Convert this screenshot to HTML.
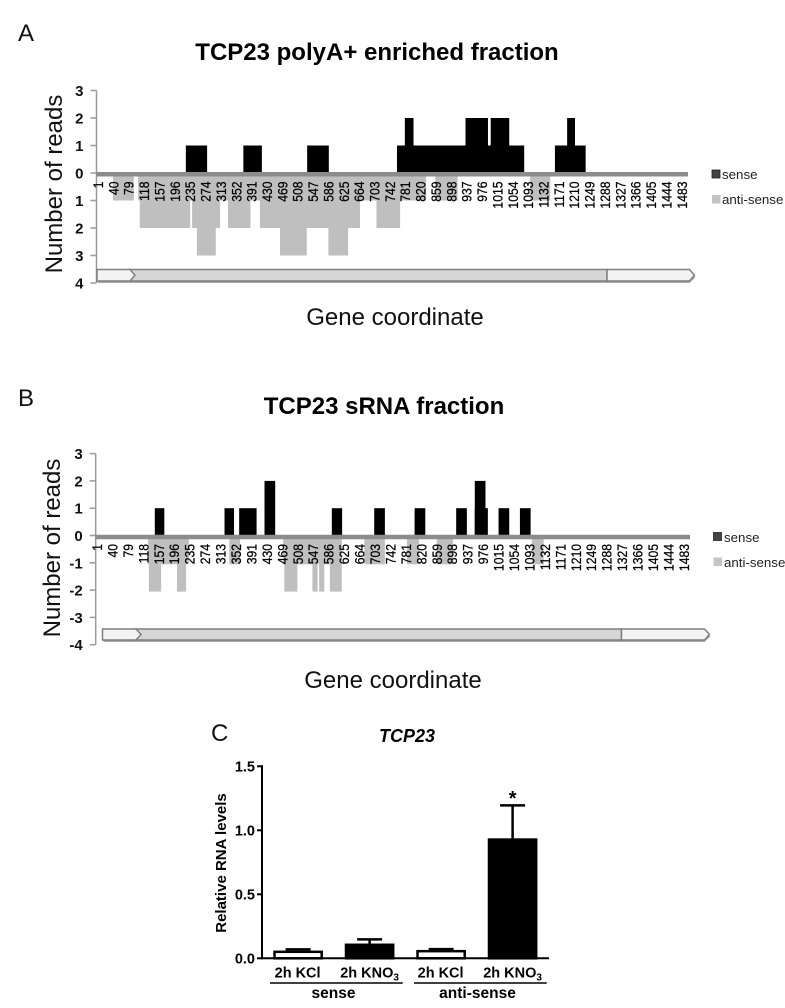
<!DOCTYPE html>
<html lang="en">
<head>
<meta charset="utf-8">
<title>TCP23 read coverage and RNA levels</title>
<style>
html,body{margin:0;padding:0;background:#fff;}
body{width:785px;height:1008px;overflow:hidden;}
svg{display:block;font-family:"Liberation Sans",sans-serif;filter:blur(0.35px);}
</style>
</head>
<body>
<svg id="figure" xmlns="http://www.w3.org/2000/svg" width="785" height="1008" viewBox="0 0 785 1008">
  <rect width="785" height="1008" fill="#ffffff"/>
  <g id="layer-a"></g>
  <g id="layer-b"></g>
  <g id="layer-c"></g>

  <text x="18" y="41" font-size="24" fill="#111">A</text>
  <text x="377" y="60" font-size="24" font-weight="700" text-anchor="middle" fill="#000">TCP23 polyA+ enriched fraction</text>
  <text transform="translate(62,184) rotate(-90)" font-size="24" text-anchor="middle" fill="#111">Number of reads</text>
  <text x="395" y="325" font-size="24" text-anchor="middle" fill="#111">Gene coordinate</text>
  <rect x="712" y="170" width="8" height="8" fill="#444" stroke="#222" stroke-width="0.8"/>
  <text x="722" y="179" font-size="13.3" fill="#222">sense</text>
  <rect x="712" y="195" width="8.5" height="8.5" fill="#c4c4c4"/>
  <text x="722" y="204" font-size="13.3" fill="#222">anti-sense</text>

  <text x="18" y="406" font-size="24" fill="#111">B</text>
  <text x="384" y="414" font-size="24" font-weight="700" text-anchor="middle" fill="#000">TCP23 sRNA fraction</text>
  <text transform="translate(60,548) rotate(-90)" font-size="24" text-anchor="middle" fill="#111">Number of reads</text>
  <text x="393" y="688" font-size="24" text-anchor="middle" fill="#111">Gene coordinate</text>
  <rect x="713.5" y="532.5" width="8" height="8" fill="#444" stroke="#222" stroke-width="0.8"/>
  <text x="724" y="542" font-size="13.3" fill="#222">sense</text>
  <rect x="713.5" y="557.5" width="8.5" height="8.5" fill="#c4c4c4"/>
  <text x="724" y="567" font-size="13.3" fill="#222">anti-sense</text>

  <text x="211" y="741" font-size="24" fill="#111">C</text>
  <text x="407" y="742" font-size="18" font-weight="700" font-style="italic" text-anchor="middle" fill="#000">TCP23</text>
  <text transform="translate(226,863) rotate(-90)" font-size="15" font-weight="700" text-anchor="middle" fill="#000">Relative RNA levels</text>
</svg>

<script>
// Shared gene-coordinate tick labels
const geneTicks = [1,40,79,118,157,196,235,274,313,352,391,430,469,508,547,586,625,664,703,742,781,820,859,898,937,976,1015,1054,1093,1132,1171,1210,1249,1288,1327,1366,1405,1444,1483];

// Panel A values
const aYTicks = [3,2,1,0,-1,-2,-3,-4];
const aYLabels = ['3','2','1','0','1','2','3','4'];
const aSenseStart = [224,370,532,760,780,934,998,1161,1192];
const aSenseEnd   = [278,417,587,1083,802,991,1045,1239,1212];
const aSenseReads = [1,1,1,1,2,2,2,1,2];
const aAntiStart = [39,103,857,1098,107,240,331,412,708,252,463,586];
const aAntiEnd   = [92,834,914,1149,235,311,388,666,768,300,531,636];
const aAntiReads = [1,1,1,1,2,2,2,2,2,3,3,3];

// Panel B values
const bYTicks = [3,2,1,0,-1,-2,-3,-4];
const bYLabels = ['3','2','1','0','-1','-2','-3','-4'];
const bSenseStart = [147,323,360,424,594,701,803,908,955,955,1015,1069];
const bSenseEnd   = [171,347,404,451,620,728,830,935,988,982,1042,1096];
const bSenseReads = [1,1,1,2,1,1,1,1,1,2,1,1];
const bAntiStart = [130,335,471,676,784,859,1099,132,203,474,545,562,589];
const bAntiEnd   = [233,362,619,728,814,900,1129,163,226,507,558,575,619];
const bAntiReads = [1,1,1,1,1,1,1,2,2,2,2,2,2];

// Panel C values
const cCategories = ['2h KCl','2h KNO','2h KCl','2h KNO'];
const cMeans = [0.06,0.115,0.065,0.937];
const cErrorTops = [0.07,0.148,0.072,1.195];
const cYTicks = [0,0.5,1,1.5];
const cYLabels = ['0.0','0.5','1.0','1.5'];
const cGroups = ['sense','anti-sense'];

const NS = 'http://www.w3.org/2000/svg';

function svgEl(parent, tag, attrs, text) {
  const el = document.createElementNS(NS, tag);
  for (const k in attrs) el.setAttribute(k, attrs[k]);
  if (text !== undefined) el.textContent = text;
  parent.appendChild(el);
  return el;
}

function drawCoverage(layer, prefix, cfg) {
  const xScale = c => cfg.x0 + (c - 1) * cfg.xPerBase;
  const yScale = v => cfg.y0 - v * cfg.yStep;

  for (let i = 0; i < cfg.antiReads.length; i++) {
    const x1 = xScale(cfg.antiStart[i]);
    const x2 = xScale(cfg.antiEnd[i]);
    const y2 = yScale(-cfg.antiReads[i]) + cfg.antiShift;
    const r = svgEl(layer, 'rect', {x: x1, y: cfg.y0, width: x2 - x1, height: y2 - cfg.y0, fill: '#bfbfbf'});
    
    
  }
  for (let i = 0; i < cfg.senseReads.length; i++) {
    const x1 = xScale(cfg.senseStart[i]);
    const x2 = xScale(cfg.senseEnd[i]);
    const y1 = yScale(cfg.senseReads[i]);
    const r = svgEl(layer, 'rect', {x: x1, y: y1, width: x2 - x1, height: cfg.y0 - y1 + 1, fill: '#000'});
    
    
  }

  const yAxis = svgEl(layer, 'line', {x1: cfg.axisX, x2: cfg.axisX, y1: yScale(cfg.yTicks[0]), y2: yScale(cfg.yTicks[cfg.yTicks.length - 1]), stroke: '#9a9a9a', 'stroke-width': 1.5});
  
  

  cfg.yTicks.forEach((t, i) => {
    const tick = svgEl(layer, 'line', {x1: cfg.axisX - 6, x2: cfg.axisX, y1: yScale(t), y2: yScale(t), stroke: '#9a9a9a', 'stroke-width': 1.5});
    
    
    const lab = svgEl(layer, 'text', {x: cfg.axisX - 13, y: yScale(t) + 5.5, 'font-size': 15, 'font-weight': 700, 'text-anchor': 'end', fill: '#111'}, cfg.yLabels[i]);
    
    
  });

  const base = svgEl(layer, 'line', {x1: cfg.axisX - 0.5, x2: cfg.baseEnd, y1: cfg.baseY, y2: cfg.baseY, stroke: '#8c8c8c', 'stroke-width': 4.5});
  
  

  geneTicks.forEach(g => {
    const x = xScale(g) + 5;
    const lab = svgEl(layer, 'text', {transform: 'translate(' + x + ',' + cfg.labelTop + ') rotate(-90) scale(0.87,1)', 'font-size': 14, 'text-anchor': 'end', fill: '#000', stroke: '#000', 'stroke-width': 0.25}, String(g));
    
    
  });

  // Gene model track
  const t = cfg.track;
  const mid = (t.y1 + t.y2) / 2;
  const shadow = svgEl(layer, 'path', {d: 'M' + (t.x1 + 1) + ' ' + (t.y1 + 2) + 'H' + (t.x4 - 5) + 'L' + (t.x4 + 1) + ' ' + (mid + 2) + 'L' + (t.x4 - 5) + ' ' + (t.y2 + 2) + 'H' + (t.x1 + 1) + 'Z', fill: '#a8a8a8'});
  
  
  const cds = svgEl(layer, 'rect', {x: t.x2 - 6, y: t.y1, width: t.x3 - t.x2 + 6, height: t.y2 - t.y1, fill: '#d6d6d6', stroke: '#7f7f7f', 'stroke-width': 1.5});
  
  
  const utr5 = svgEl(layer, 'path', {d: 'M' + t.x1 + ' ' + t.y1 + 'H' + (t.x2 - 5) + 'L' + t.x2 + ' ' + mid + 'L' + (t.x2 - 5) + ' ' + t.y2 + 'H' + t.x1 + 'Z', fill: '#f3f3f3', stroke: '#7f7f7f', 'stroke-width': 1.5});
  
  
  const utr3 = svgEl(layer, 'path', {d: 'M' + t.x3 + ' ' + t.y1 + 'H' + (t.x4 - 5) + 'L' + t.x4 + ' ' + mid + 'L' + (t.x4 - 5) + ' ' + t.y2 + 'H' + t.x3 + 'Z', fill: '#f3f3f3', stroke: '#7f7f7f', 'stroke-width': 1.5});
  
  
}

drawCoverage(document.getElementById('layer-a'), 'panel-a', {
  x0: 98, xPerBase: 0.3939, y0: 173, yStep: 27.5, axisX: 96.5, baseY: 174.3, baseEnd: 688, labelTop: 181.5, antiShift: 0,
  yTicks: aYTicks, yLabels: aYLabels,
  senseStart: aSenseStart, senseEnd: aSenseEnd, senseReads: aSenseReads,
  antiStart: aAntiStart, antiEnd: aAntiEnd, antiReads: aAntiReads,
  track: {x1: 97, x2: 135, x3: 607, x4: 694.5, y1: 269.5, y2: 281}
});

drawCoverage(document.getElementById('layer-b'), 'panel-b', {
  x0: 97, xPerBase: 0.396, y0: 535.5, yStep: 27.3, axisX: 95.7, baseY: 537, baseEnd: 690, labelTop: 544, antiShift: 1.5,
  yTicks: bYTicks, yLabels: bYLabels,
  senseStart: bSenseStart, senseEnd: bSenseEnd, senseReads: bSenseReads,
  antiStart: bAntiStart, antiEnd: bAntiEnd, antiReads: bAntiReads,
  track: {x1: 102.5, x2: 141, x3: 621.5, x4: 709.5, y1: 629, y2: 640}
});

(function drawBars() {
  const layer = document.getElementById('layer-c');
  const axisX = 262;
  const barLeft0 = 273.3;
  const barWidth = 49.6;
  const barPitch = 71.5;
  const y = v => 958.3 - v * 128;
  const xb = i => barLeft0 + i * barPitch;

  cMeans.forEach((m, i) => {
    const cx = xb(i) + barWidth / 2;
    const stem = svgEl(layer, 'line', {x1: cx, x2: cx, y1: y(m), y2: y(cErrorTops[i]), stroke: '#000', 'stroke-width': 2.5});
    
    
    const cap = svgEl(layer, 'line', {x1: cx - 12.5, x2: cx + 12.5, y1: y(cErrorTops[i]), y2: y(cErrorTops[i]), stroke: '#000', 'stroke-width': 2.5});
    
    
    const filled = i % 2 === 1;
    const bar = svgEl(layer, 'rect', {x: xb(i) + 1.2, y: y(m) + 1.2, width: barWidth - 2.4, height: y(0) - y(m) - 1.2, fill: filled ? '#000' : '#fff', stroke: '#000', 'stroke-width': 2.5});
    
    

    const lab = svgEl(layer, 'text', {x: cx + (filled ? 0 : -0.5), y: 977.7, 'font-size': 14.5, 'font-weight': 700, 'text-anchor': 'middle', fill: '#000'}, cCategories[i]);
    if (filled) {
      const sub = svgEl(lab, 'tspan', {dy: 3, 'font-size': 10}, '3');
      
      
    }
    
    
  });

  const xAxis = svgEl(layer, 'line', {x1: axisX - 1, x2: 549, y1: y(0), y2: y(0), stroke: '#000', 'stroke-width': 2});
  
  
  const yAxis = svgEl(layer, 'line', {x1: axisX, x2: axisX, y1: y(cYTicks[cYTicks.length - 1]) - 1, y2: y(0) + 1, stroke: '#000', 'stroke-width': 2});
  
  

  cYTicks.forEach((t, i) => {
    const tick = svgEl(layer, 'line', {x1: axisX - 5, x2: axisX, y1: y(t), y2: y(t), stroke: '#000', 'stroke-width': 2});
    
    
    const lab = svgEl(layer, 'text', {x: axisX - 7, y: y(t) + 5, 'font-size': 14.5, 'font-weight': 700, 'text-anchor': 'end', fill: '#000'}, cYLabels[i]);
    
    
  });

  cGroups.forEach((g, i) => {
    const x1 = 270 + i * 144;
    const rule = svgEl(layer, 'line', {x1: x1, x2: x1 + 132.7, y1: 983, y2: 983, stroke: '#000', 'stroke-width': 1.5});
    
    
    const lab = svgEl(layer, 'text', {x: x1 + 63.5 , y: 998, 'font-size': 15.5, 'font-weight': 700, 'text-anchor': 'middle', fill: '#000'}, g);
    
    
  });

  const star = svgEl(layer, 'text', {x: xb(3) + barWidth / 2, y: y(cErrorTops[3]) - 0.5, 'font-size': 20, 'font-weight': 700, 'text-anchor': 'middle', fill: '#000'}, '*');
  
  
})();
</script>
</body>
</html>
